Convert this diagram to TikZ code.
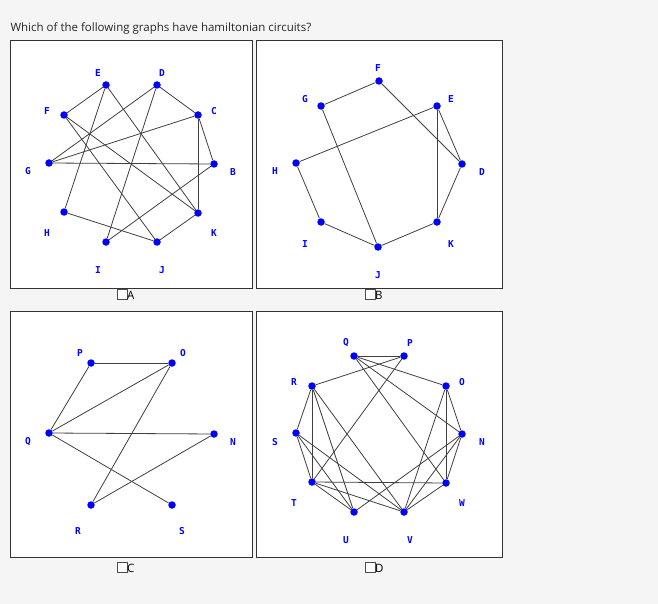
\documentclass[tikz,border=0pt]{standalone}
\usepackage{fontspec}
\setmainfont{Open Sans}
\newfontfamily\lblfont{DejaVu Sans Mono}
\begin{document}
\begin{tikzpicture}[x=1pt,y=-1pt,
  v/.style={circle,fill=blue,inner sep=0pt,minimum size=7.5pt},
  lb/.style={text=blue,font=\lblfont\bfseries\fontsize{9.5}{9.5}\selectfont,inner sep=0pt},
  ed/.style={draw=black!75,line width=0.8pt},
  panel/.style={draw=black!80,fill=white,line width=0.9pt},
  cb/.style={draw=black!70,fill=white,minimum size=10pt,inner sep=0pt,line width=0.7pt}]
\fill[black!4] (0,0) rectangle (658,604);
\useasboundingbox (0,0) rectangle (658,604);
\node[anchor=west,font=\fontsize{11.5}{13}\selectfont,text=black!85] (title) at (7,28) {Which of the following graphs have hamiltonian circuits?};
\draw[panel] (10,40) rectangle (252,288);
\draw[panel] (256,40) rectangle (502,288);
\draw[panel] (10,311) rectangle (252,557);
\draw[panel] (256,311) rectangle (502,557);
% checkboxes
\foreach \n/\x/\y/\t in {ca/122/294/A,cb2/370/294/B,cc/122/567/C,cd/370/567/D}{
  \node[cb] (\n) at (\x,\y) {};
  \node[anchor=west,font=\fontsize{11.5}{13}\selectfont,inner sep=0pt] (\n t) at (\x+5,\y+1) {\t};
}
% Panel A
\foreach \n/\x/\y in {E/106/85,D/157/85,F/64/115,C/198/115,G/49/163,B/214/164,H/64/212,K/198/213,I/106/242,J/157/242}{\node[v] (a\n) at (\x,\y) {};}
\foreach \n/\x/\y in {E/98/73,D/162/73,F/47/111,C/214/111,G/28/171,B/233/172,H/47/233,K/214/233,I/98/270,J/162/270}{\node[lb] (al\n) at (\x,\y) {\n};}
\foreach \a/\b in {E/F,E/H,E/K,D/G,D/I,D/C,C/G,C/B,C/K,G/B,F/K,F/J,H/J,J/K,I/B}{\draw[ed] (a\a) -- (a\b);}
% Panel B
\foreach \n/\x/\y in {F/379/81,G/321/106,E/437/106,H/296/163,D/462/164,I/321/222,K/437/222,J/378/247}{\node[v] (b\n) at (\x,\y) {};}
\foreach \n/\x/\y in {F/378/68,G/305/99,E/451/99,H/275/171,D/482/172,I/305/244,K/451/244,J/378/275}{\node[lb] (bl\n) at (\x,\y) {\n};}
\foreach \a/\b in {F/G,F/D,G/J,E/H,E/D,E/K,D/K,H/I,I/J,J/K}{\draw[ed] (b\a) -- (b\b);}
% Panel C
\foreach \n/\x/\y in {P/91/363,O/172/363,Q/49/433,N/214/434,R/91/505,S/172/505}{\node[v] (c\n) at (\x,\y) {};}
\foreach \n/\x/\y in {P/80/353,O/183/353,Q/28/442,N/233/442,R/78/531,S/182/531}{\node[lb] (cl\n) at (\x,\y) {\n};}
\foreach \a/\b in {P/O,P/Q,Q/O,Q/N,Q/S,O/R,R/N}{\draw[ed] (c\a) -- (c\b);}
% Panel D
\foreach \n/\x/\y in {Q/354/356,P/404/356,R/312/386,O/446/386,S/296/433,N/462/434,T/312/482,W/446/483,U/354/512,V/404/512}{\node[v] (d\n) at (\x,\y) {};}
\foreach \n/\x/\y in {Q/346/343,P/410/343,R/294/382,O/462/382,S/275/442,N/482/442,T/294/503,W/462/503,U/346/540,V/410/540}{\node[lb] (dl\n) at (\x,\y) {\n};}
\foreach \a/\b in {Q/P,Q/O,Q/N,Q/W,P/R,P/T,R/S,R/T,R/U,R/V,S/T,S/U,S/V,T/W,T/U,T/V,U/N,V/O,V/N,V/W,W/O,W/N,O/N}{\draw[ed] (d\a) -- (d\b);}
\end{tikzpicture}
\end{document}
